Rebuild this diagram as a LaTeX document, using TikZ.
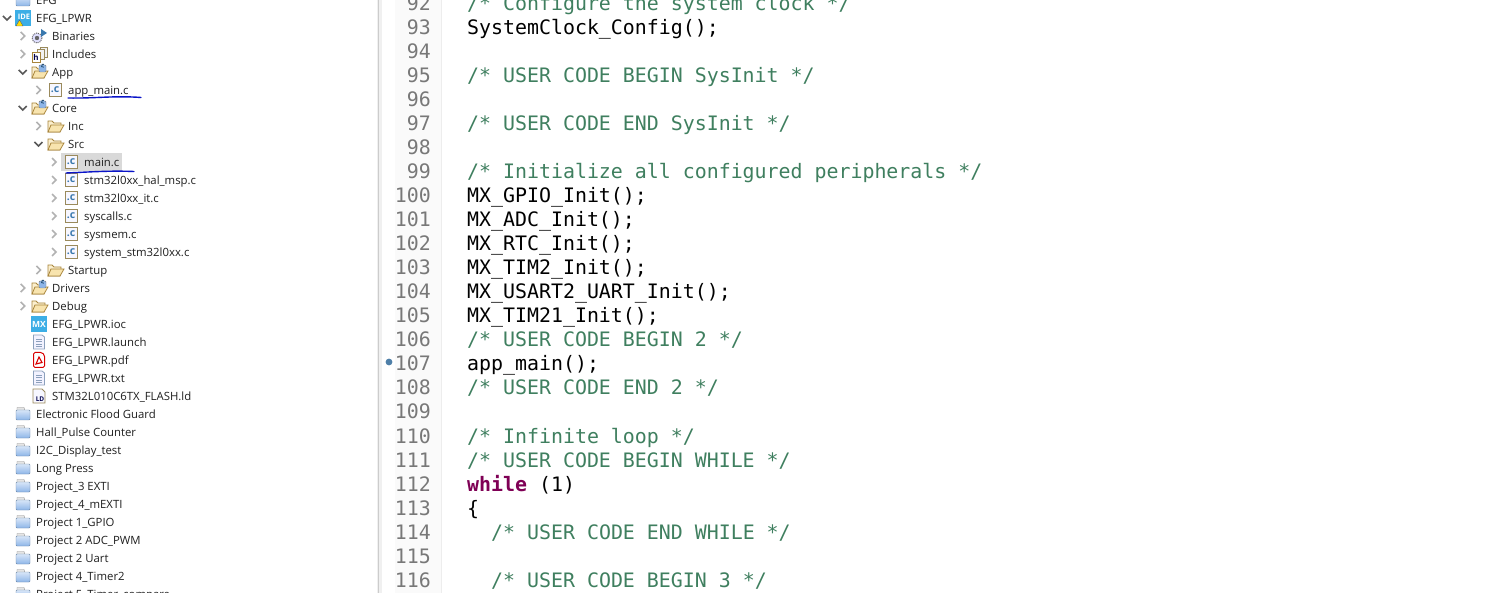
\documentclass[tikz,border=0pt]{standalone}
\usepackage{
	fontspec,			% Installed Fonts
	xcolor
}
\setmainfont{Open Sans}
\setmonofont{DejaVu Sans Mono}
\definecolor{linenum}{HTML}{787878}
\definecolor{codegreen}{HTML}{3F7F5F}
\definecolor{keyword}{HTML}{7F0055}
\definecolor{foldertan}{HTML}{F8E4AE}
\definecolor{folderline}{HTML}{A8853C}
\definecolor{filetan}{HTML}{9A8A5C}
\definecolor{filetext}{HTML}{3A78AE}
\definecolor{projtop}{HTML}{D8E6F8}
\definecolor{projbottom}{HTML}{8DB5E8}
\definecolor{projline}{HTML}{6C87A6}
\definecolor{docline}{HTML}{8CA0BC}
\definecolor{skyfill}{HTML}{3CAEE6}
\definecolor{scribble}{HTML}{0A14C8}
\definecolor{breakdot}{HTML}{4E7FA8}
\tikzset{
	treetext/.style={anchor=base west, inner sep=0, text=black!88, font=\fontsize{11.35}{13}\selectfont},
	numtext/.style={anchor=base east, inner sep=0, text=linenum, font=\ttfamily\fontsize{19.9}{24}\selectfont},
	codeline/.style={anchor=base west, inner sep=0, text=black, font=\ttfamily\fontsize{19.9}{24}\selectfont},
	codenote/.style={codeline, text=codegreen},
	noarrow/.pic={},
	chevright/.pic={\draw[black!30, line width=1.6pt] (-2,-4)--(2,0)--(-2,4);},
	chevdown/.pic={\draw[black!65, line width=1.6pt] (-4,-2)--(0,2)--(4,-2);},
	tanfolder/.pic={
		\draw[folderline, fill=foldertan!60, line width=0.8pt] (-7,6)--(-7,-5)--(-3,-5)--(-1,-3)--(6,-3)--(6,1)--(5,6)--cycle;
		\draw[folderline, fill=foldertan, line width=0.8pt] (-7,6)--(-4,-1)--(9,-1)--(5,6)--cycle;
	},
	srcfolder/.pic={
		\draw[folderline, fill=foldertan!60, line width=0.8pt] (-7,6)--(-7,-5)--(-3,-5)--(-1,-3)--(6,-3)--(6,1)--(5,6)--cycle;
		\draw[folderline, fill=foldertan, line width=0.8pt] (-7,6)--(-4,-1)--(9,-1)--(5,6)--cycle;
		\draw[black!50, fill=projbottom, rounded corners=1pt] (0,-7) rectangle (7,0);
		\draw[filetext!70!black, line width=0.9pt] (4.8,-4.8) arc (60:300:1.6);
	},
	bluefolder/.pic={
		\draw[black!45, fill=black!10] (-6,-3)--(-6,-6.5)--(1,-6.5)--(2,-3);
		\draw[projline, top color=projtop, bottom color=projbottom, rounded corners=1pt] (-7,-4) rectangle (7,6);
	},
	cfile/.pic={
		\draw[filetan, fill=blue!3!white, line width=0.8pt] (-6,-7) rectangle (6,6);
		\node (dotc) at (0,0) [inner sep=0, text=filetext, font=\bfseries\fontsize{10.5}{10}\selectfont] {.c};
	},
	txtfile/.pic={
		\draw[docline, fill=blue!5!white, line width=0.8pt] (-5.5,-7)--(3,-7)--(5.5,-5)--(5.5,7)--(-5.5,7)--cycle;
		\foreach \ly in {-3,-0.5,2,4.5}
			\draw[docline, line width=0.8pt] (-3,\ly)--(3,\ly);
	},
	pdffile/.pic={
		\draw[red!85!black, fill=white, rounded corners=1.5pt, line width=1pt] (-5.5,-7.5)--(3,-7.5)--(5.5,-5)--(5.5,7.5)--(-5.5,7.5)--cycle;
		\draw[red!85!black, line width=1.1pt] (0,-3)--(-3,4)--(3,2.5)--cycle;
	},
	ldfile/.pic={
		\draw[filetan, fill=blue!3!white, line width=0.8pt] (-6,-7)--(3,-7)--(6,-4)--(6,7)--(-6,7)--cycle;
		\node (ldtag) at (1,3.5) [inner sep=0, text=blue!30!black, font=\bfseries\fontsize{6.5}{7}\selectfont] {LD};
	},
	mxfile/.pic={
		\fill[skyfill] (-8,-8) rectangle (8,8);
		\node (mxtag) at (0,0) [inner sep=0, text=white, font=\bfseries\fontsize{8.5}{9}\selectfont] {MX};
	},
	idefile/.pic={
		\fill[skyfill] (-8,-8) rectangle (8,8);
		\node (idetag) at (1,-1) [inner sep=0, text=white, font=\bfseries\fontsize{7.5}{9}\selectfont] {IDE};
		\draw[black!60, fill=yellow!80!orange] (-7,8)--(-3.5,2)--(0,8)--cycle;
	},
	binfile/.pic={
		\draw[black!60, fill=blue!12!white, line width=1pt, densely dotted] (-2,2) circle (5);
		\fill[black!60] (-2,2) circle (2.2);
		\fill[filetext] (2,-7)--(8,-3)--(2,1)--cycle;
	},
	incfile/.pic={
		\draw[filetan, fill=black!5] (1,-7) rectangle (8,3);
		\draw[filetan, fill=black!5] (-2,-5) rectangle (5,5);
		\draw[folderline, fill=white, line width=0.8pt] (-7,-2) rectangle (1,8);
		\node (htag) at (-3,3) [inner sep=0, text=blue!30!black, font=\bfseries\fontsize{8}{8}\selectfont] {h};
	}
}

\begin{document}
\begin{tikzpicture}[x=1pt, y=-1pt]
	\clip (0,0) rectangle (1502,593);
	\fill[white] (0,0) rectangle (1502,593);
	% panels
	\fill[black!6] (377,0) rectangle (382,593);
	\draw[black!20] (378,0)--(378,593);
	\fill[black!2] (395,0) rectangle (441,593);
	\draw[black!7] (441,0)--(441,593);
	\fill[black!15] (61,153) rectangle (122,171);
	% project tree
	\foreach \row/\lev/\arrow/\icon/\label in {
		0/0/noarrow/bluefolder/EFG,
		1/0/chevdown/idefile/EFG\_LPWR,
		2/1/chevright/binfile/Binaries,
		3/1/chevright/incfile/Includes,
		4/1/chevdown/srcfolder/App,
		5/2/chevright/cfile/app\_main.c,
		6/1/chevdown/srcfolder/Core,
		7/2/chevright/tanfolder/Inc,
		8/2/chevdown/tanfolder/Src,
		9/3/chevright/cfile/main.c,
		10/3/chevright/cfile/stm32l0xx\_hal\_msp.c,
		11/3/chevright/cfile/stm32l0xx\_it.c,
		12/3/chevright/cfile/syscalls.c,
		13/3/chevright/cfile/sysmem.c,
		14/3/chevright/cfile/system\_stm32l0xx.c,
		15/2/chevright/tanfolder/Startup,
		16/1/chevright/srcfolder/Drivers,
		17/1/chevright/tanfolder/Debug,
		18/1/noarrow/mxfile/EFG\_LPWR.ioc,
		19/1/noarrow/txtfile/EFG\_LPWR.launch,
		20/1/noarrow/pdffile/EFG\_LPWR.pdf,
		21/1/noarrow/txtfile/EFG\_LPWR.txt,
		22/1/noarrow/ldfile/STM32L010C6TX\_FLASH.ld,
		23/0/noarrow/bluefolder/Electronic Flood Guard,
		24/0/noarrow/bluefolder/Hall\_Pulse Counter,
		25/0/noarrow/bluefolder/I2C\_Display\_test,
		26/0/noarrow/bluefolder/Long Press,
		27/0/noarrow/bluefolder/Project\_3 EXTI,
		28/0/noarrow/bluefolder/Project\_4\_mEXTI,
		29/0/noarrow/bluefolder/Project 1\_GPIO,
		30/0/noarrow/bluefolder/Project 2 ADC\_PWM,
		31/0/noarrow/bluefolder/Project 2 Uart,
		32/0/noarrow/bluefolder/Project 4\_Timer2,
		33/0/noarrow/bluefolder/Project 5\_Timer\_compare}
	{
		\pic at ({7+15.7*\lev},18*\row) {\arrow};
		\pic at ({23+16*\lev},18*\row) {\icon};
		\node[treetext] (row\row) at ({36+16*\lev},{18*\row+4.6}) {\label};
	}
	% pen marks under the two file names
	\draw[scribble, line width=1.4pt, line cap=round] (68,98) .. controls (95,98.5) and (115,95.5) .. (141,97.5);
	\draw[scribble, line width=1.4pt, line cap=round] (66,173) .. controls (90,172) and (110,170.5) .. (134,171.5);
	% editor
	\foreach \n in {92,...,116}
		\node[numtext] (num\n) at (431,{35+24*(\n-93)}) {\n};
	\foreach \n/\code/\kind in {
		92/{/* Configure the system clock */}/codenote,
		93/{SystemClock\_Config();}/codeline,
		95/{/* USER CODE BEGIN SysInit */}/codenote,
		97/{/* USER CODE END SysInit */}/codenote,
		99/{/* Initialize all configured peripherals */}/codenote,
		100/{MX\_GPIO\_Init();}/codeline,
		101/{MX\_ADC\_Init();}/codeline,
		102/{MX\_RTC\_Init();}/codeline,
		103/{MX\_TIM2\_Init();}/codeline,
		104/{MX\_USART2\_UART\_Init();}/codeline,
		105/{MX\_TIM21\_Init();}/codeline,
		106/{/* USER CODE BEGIN 2 */}/codenote,
		107/{app\_main();}/codeline,
		108/{/* USER CODE END 2 */}/codenote,
		110/{/* Infinite loop */}/codenote,
		111/{/* USER CODE BEGIN WHILE */}/codenote,
		112/{\textcolor{keyword}{\textbf{while}} (1)}/codeline,
		113/{\{}/codeline,
		114/{\hspace*{24pt}/* USER CODE END WHILE */}/codenote,
		116/{\hspace*{24pt}/* USER CODE BEGIN 3 */}/codenote}
	{
		\node[\kind] (code\n) at (467,{35+24*(\n-93)}) {\code};
	}
	\fill[breakdot] (389,362) circle (3.4);
\end{tikzpicture}
\end{document}
